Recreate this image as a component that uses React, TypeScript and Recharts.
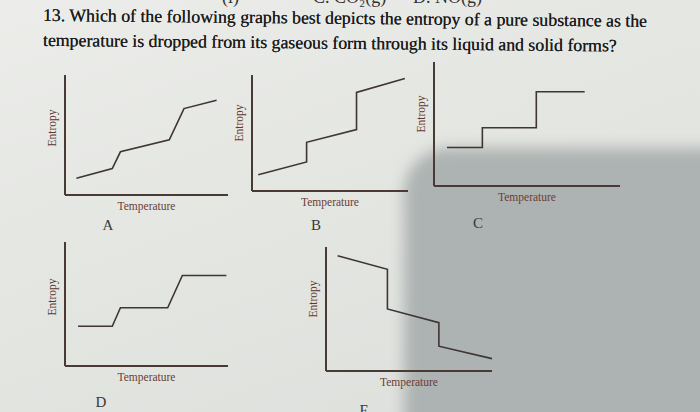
import { Line, LineChart, XAxis, YAxis } from "recharts";

type Pt = { t: number; s: number };

// temperature / entropy readings for each sketch (arbitrary 0-100 units)
const graphA: Pt[] = [
  { t: 7, s: 14 },
  { t: 29, s: 22 },
  { t: 34, s: 36 },
  { t: 64, s: 46 },
  { t: 73, s: 72 },
  { t: 93, s: 79 },
];
const graphB: Pt[] = [
  { t: 4, s: 14 },
  { t: 35, s: 25 },
  { t: 35, s: 42 },
  { t: 67, s: 53 },
  { t: 67, s: 85 },
  { t: 98, s: 97 },
];
const graphC: Pt[] = [
  { t: 7, s: 31 },
  { t: 26, s: 31 },
  { t: 26, s: 47 },
  { t: 55, s: 47 },
  { t: 55, s: 76 },
  { t: 81, s: 76 },
];
const graphD: Pt[] = [
  { t: 8, s: 32 },
  { t: 29, s: 32 },
  { t: 34, s: 47 },
  { t: 63, s: 47 },
  { t: 72, s: 73 },
  { t: 99, s: 73 },
];
const graphE: Pt[] = [
  { t: 7, s: 93 },
  { t: 37, s: 82 },
  { t: 37, s: 50 },
  { t: 68, s: 39 },
  { t: 68, s: 20 },
  { t: 100, s: 10 },
];

const question = [
  "13. Which of the following graphs best depicts the entropy of a pure substance as the",
  "temperature is dropped from its gaseous form through its liquid and solid forms?",
];
// bottoms of the previous question's choices, cut by the photo's top edge
const prevChoices: [string, number][] = [
  ["(l)", 222],
  ["C. CO₂(g)", 313],
  ["D. NO(g)", 413],
];
const xLabel = "Temperature";
const yLabel = "Entropy";

const SERIF = "'Liberation Serif', 'DejaVu Serif', serif";
const Y_W = 24;
const X_H = 22;
const TOP = 2;

type Frame = { left: number; top: number; width: number; height: number };

const graphs: {
  letter: string;
  data: Pt[];
  frame: Frame;
  letterAt: [number, number];
  labelDy: number;
}[] = [
  { letter: "A", data: graphA, frame: { left: 65, top: 75, width: 163, height: 120 }, letterAt: [108, 225], labelDy: -7 },
  { letter: "B", data: graphB, frame: { left: 252, top: 75, width: 156, height: 116 }, letterAt: [316, 225], labelDy: -10 },
  { letter: "C", data: graphC, frame: { left: 434, top: 62, width: 186, height: 124 }, letterAt: [478, 223], labelDy: -10 },
  { letter: "D", data: graphD, frame: { left: 65, top: 242, width: 163, height: 124 }, letterAt: [101, 402], labelDy: -7 },
  { letter: "E", data: graphE, frame: { left: 326, top: 247, width: 166, height: 124 }, letterAt: [364, 410], labelDy: -10 },
];

function Sketch({ data, frame, labelDy }: { data: Pt[]; frame: Frame; labelDy: number }) {
  const entropyLabel = (props: any) => {
    const vb = props.viewBox;
    const x = vb.x + vb.width / 2 - 1;
    const y = vb.y + vb.height / 2 + labelDy;
    return (
      <text
        x={x}
        y={y}
        transform={`rotate(-90, ${x}, ${y})`}
        textAnchor="middle"
        dominantBaseline="central"
        fill="#5e3530"
        fontFamily={SERIF}
        fontSize={11.5}
      >
        {yLabel}
      </text>
    );
  };

  return (
    <div style={{ position: "absolute", left: frame.left - Y_W, top: frame.top - TOP }}>
      <LineChart
        width={frame.width + Y_W + 2}
        height={frame.height + X_H + TOP}
        data={data}
        margin={{ top: TOP, right: 2, bottom: 0, left: 0 }}
      >
        <XAxis
          type="number"
          dataKey="t"
          domain={[0, 100]}
          tick={false}
          tickLine={false}
          height={X_H}
          axisLine={{ stroke: "#4a3a36", strokeWidth: 2 }}
          label={{ value: xLabel, position: "inside", fill: "#6b3d35", fontFamily: SERIF, fontSize: 11.5 }}
        />
        <YAxis
          type="number"
          dataKey="s"
          domain={[0, 100]}
          tick={false}
          tickLine={false}
          width={Y_W}
          axisLine={{ stroke: "#4a3a36", strokeWidth: 2 }}
          label={{ content: entropyLabel }}
        />
        <Line
          type="linear"
          dataKey="s"
          stroke="#3f3533"
          strokeWidth={1.6}
          dot={false}
          isAnimationActive={false}
        />
      </LineChart>
    </div>
  );
}

export default function App() {
  return (
    <div
      style={{
        position: "fixed",
        left: 0,
        top: 0,
        width: 700,
        height: 412,
        overflow: "hidden",
        background: "linear-gradient(160deg, #ecedea 0%, #e4e6e2 45%, #dcdfdb 100%)",
        fontFamily: SERIF,
      }}
    >
      {/* shadow falling over the lower right of the page */}
      <div
        style={{
          position: "absolute",
          left: 404,
          top: 148,
          width: 340,
          height: 300,
          background: "#adb3b2",
          borderTopLeftRadius: 45,
          filter: "blur(7px)",
        }}
      />

      {prevChoices.map(([txt, x]) => (
        <div
          key={txt}
          style={{ position: "absolute", left: x, top: -13, fontSize: 18, color: "#333", whiteSpace: "nowrap" }}
        >
          {txt}
        </div>
      ))}

      {question.map((line, i) => (
        <div
          key={i}
          style={{
            position: "absolute",
            left: 43,
            top: 5 + i * 25,
            fontSize: 17.8,
            color: "#1c1c1c",
            whiteSpace: "nowrap",
            transform: "rotate(0.55deg)",
            transformOrigin: "left center",
            textShadow: "0 0 0.6px #1c1c1c",
          }}
        >
          {line}
        </div>
      ))}

      {graphs.map((g) => (
        <div key={g.letter}>
          <Sketch data={g.data} frame={g.frame} labelDy={g.labelDy} />
          <div
            style={{
              position: "absolute",
              left: g.letterAt[0] - 10,
              top: g.letterAt[1] - 10,
              width: 20,
              textAlign: "center",
              fontSize: 15,
              lineHeight: "20px",
              color: "#3a3838",
            }}
          >
            {g.letter}
          </div>
        </div>
      ))}
    </div>
  );
}
